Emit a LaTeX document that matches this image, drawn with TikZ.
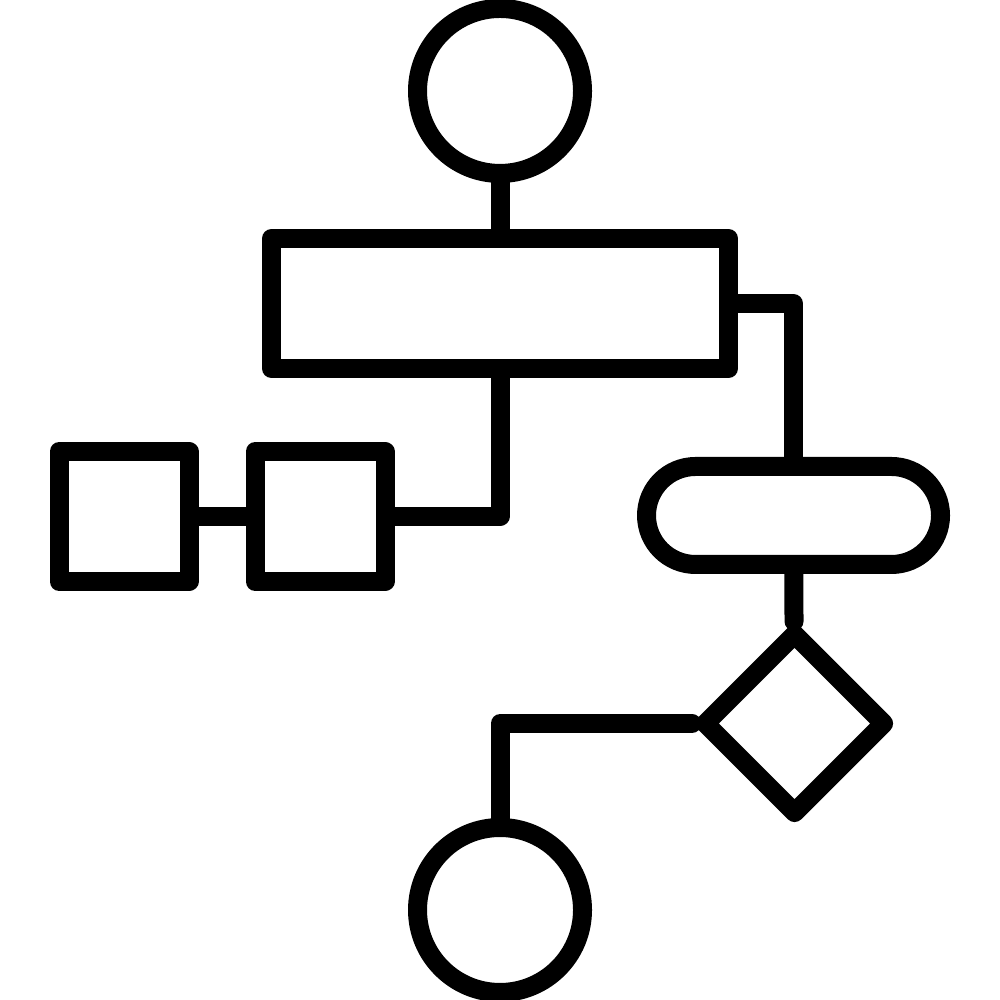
\documentclass[tikz,border=0pt]{standalone}
\usepackage{tikz}
\usetikzlibrary{shapes, positioning}

\begin{document}
\begin{tikzpicture}[line width=0.19cm, line join=round, line cap=round,
		endpoint/.style={draw, circle, inner sep=0pt, minimum size=1.65cm},
		process/.style={draw, rectangle, inner sep=0pt, minimum width=4.57cm, minimum height=1.30cm},
		subtask/.style={draw, rectangle, inner sep=0pt, minimum size=1.30cm},
		terminal/.style={draw, rectangle, rounded corners=0.49cm, inner sep=0pt, minimum width=2.94cm, minimum height=0.98cm},
		decision/.style={draw, diamond, aspect=1, inner sep=0pt, minimum size=1.86cm}]
	\useasboundingbox (0,0) rectangle (10,10);
	\node[endpoint] (start) at (5,9.09) {};
	\node[process] (main) at (5,6.965) {};
	\node[subtask] (left) at (1.24,4.835) {};
	\node[subtask] (right) at (3.20,4.835) {};
	\node[terminal] (term) at (7.935,4.845) {};
	\node[decision] (check) at (7.945,2.765) {};
	\node[endpoint] (stop) at (5,0.90) {};
	% links
	\draw (start) -- (main);
	\draw (main.east) -| (term.north);
	\draw (term) -- (check);
	\draw (check.west) -| (stop.north);
	\draw (main.south) |- (right.east);
	\draw (left) -- (right);
\end{tikzpicture}
\end{document}
